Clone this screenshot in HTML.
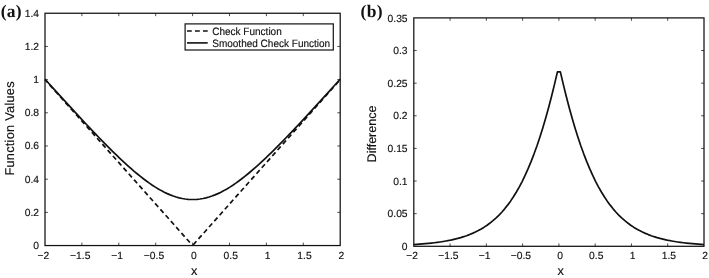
<!DOCTYPE html>
<html><head><meta charset="utf-8"><title>Check function</title>
<style>html,body{margin:0;padding:0;background:#fff}svg{display:block}</style></head>
<body>
<svg width="709" height="278" viewBox="0 0 709 278" text-rendering="geometricPrecision">
<rect width="709" height="278" fill="#fff"/>
<g stroke="#111" fill="none">
<rect x="45.0" y="13.25" width="295.20" height="232.30" stroke-width="1.25"/>
<path d="M81.90,245.55 v-2.9 M81.90,13.25 v2.9" stroke-width="0.75"/>
<path d="M118.80,245.55 v-2.9 M118.80,13.25 v2.9" stroke-width="0.75"/>
<path d="M155.70,245.55 v-2.9 M155.70,13.25 v2.9" stroke-width="0.75"/>
<path d="M192.60,245.55 v-2.9 M192.60,13.25 v2.9" stroke-width="0.75"/>
<path d="M229.50,245.55 v-2.9 M229.50,13.25 v2.9" stroke-width="0.75"/>
<path d="M266.40,245.55 v-2.9 M266.40,13.25 v2.9" stroke-width="0.75"/>
<path d="M303.30,245.55 v-2.9 M303.30,13.25 v2.9" stroke-width="0.75"/>
<path d="M45.0,212.36 h2.9 M340.2,212.36 h-2.9" stroke-width="0.75"/>
<path d="M45.0,179.18 h2.9 M340.2,179.18 h-2.9" stroke-width="0.75"/>
<path d="M45.0,145.99 h2.9 M340.2,145.99 h-2.9" stroke-width="0.75"/>
<path d="M45.0,112.81 h2.9 M340.2,112.81 h-2.9" stroke-width="0.75"/>
<path d="M45.0,79.62 h2.9 M340.2,79.62 h-2.9" stroke-width="0.75"/>
<path d="M45.0,46.44 h2.9 M340.2,46.44 h-2.9" stroke-width="0.75"/>
</g>
<g font-family="Liberation Sans, Arial, Helvetica, sans-serif" font-size="10.3" fill="#111" stroke="#111" stroke-width="0.15">
<text transform="translate(43.30,259.05) scale(1,1)" text-anchor="middle">−2</text>
<text transform="translate(80.20,259.05) scale(1,1)" text-anchor="middle">−1.5</text>
<text transform="translate(117.10,259.05) scale(1,1)" text-anchor="middle">−1</text>
<text transform="translate(154.00,259.05) scale(1,1)" text-anchor="middle">−0.5</text>
<text transform="translate(193.80,259.05) scale(1,1)" text-anchor="middle">0</text>
<text transform="translate(230.70,259.05) scale(1,1)" text-anchor="middle">0.5</text>
<text transform="translate(267.60,259.05) scale(1,1)" text-anchor="middle">1</text>
<text transform="translate(304.50,259.05) scale(1,1)" text-anchor="middle">1.5</text>
<text transform="translate(341.40,259.05) scale(1,1)" text-anchor="middle">2</text>
<text transform="translate(39.10,249.05) scale(1,1)" text-anchor="end">0</text>
<text transform="translate(39.10,215.86) scale(1,1)" text-anchor="end">0.2</text>
<text transform="translate(39.10,182.68) scale(1,1)" text-anchor="end">0.4</text>
<text transform="translate(39.10,149.49) scale(1,1)" text-anchor="end">0.6</text>
<text transform="translate(39.10,116.31) scale(1,1)" text-anchor="end">0.8</text>
<text transform="translate(39.10,83.12) scale(1,1)" text-anchor="end">1</text>
<text transform="translate(39.10,49.94) scale(1,1)" text-anchor="end">1.2</text>
<text transform="translate(39.10,16.75) scale(1,1)" text-anchor="end">1.4</text>
</g>
<g font-family="Liberation Sans, Arial, Helvetica, sans-serif" font-size="12.8" fill="#111" stroke="#111" stroke-width="0.15">
<text x="194.30" y="274.9" text-anchor="middle">x</text>
<text transform="translate(13.7,128.40) rotate(-90)" text-anchor="middle" letter-spacing="0.24" font-size="12.8">Function Values</text>
</g>
<g stroke="#111" fill="none">
<rect x="413.8" y="17.9" width="290.20" height="228.40" stroke-width="1.25"/>
<path d="M450.07,246.3 v-2.9 M450.07,17.9 v2.9" stroke-width="0.75"/>
<path d="M486.35,246.3 v-2.9 M486.35,17.9 v2.9" stroke-width="0.75"/>
<path d="M522.62,246.3 v-2.9 M522.62,17.9 v2.9" stroke-width="0.75"/>
<path d="M558.90,246.3 v-2.9 M558.90,17.9 v2.9" stroke-width="0.75"/>
<path d="M595.17,246.3 v-2.9 M595.17,17.9 v2.9" stroke-width="0.75"/>
<path d="M631.45,246.3 v-2.9 M631.45,17.9 v2.9" stroke-width="0.75"/>
<path d="M667.73,246.3 v-2.9 M667.73,17.9 v2.9" stroke-width="0.75"/>
<path d="M413.8,213.67 h2.9 M704.0,213.67 h-2.9" stroke-width="0.75"/>
<path d="M413.8,181.04 h2.9 M704.0,181.04 h-2.9" stroke-width="0.75"/>
<path d="M413.8,148.41 h2.9 M704.0,148.41 h-2.9" stroke-width="0.75"/>
<path d="M413.8,115.79 h2.9 M704.0,115.79 h-2.9" stroke-width="0.75"/>
<path d="M413.8,83.16 h2.9 M704.0,83.16 h-2.9" stroke-width="0.75"/>
<path d="M413.8,50.53 h2.9 M704.0,50.53 h-2.9" stroke-width="0.75"/>
</g>
<g font-family="Liberation Sans, Arial, Helvetica, sans-serif" font-size="10.3" fill="#111" stroke="#111" stroke-width="0.15">
<text transform="translate(412.10,259.10) scale(1,1)" text-anchor="middle">−2</text>
<text transform="translate(448.38,259.10) scale(1,1)" text-anchor="middle">−1.5</text>
<text transform="translate(484.65,259.10) scale(1,1)" text-anchor="middle">−1</text>
<text transform="translate(520.92,259.10) scale(1,1)" text-anchor="middle">−0.5</text>
<text transform="translate(560.00,259.10) scale(1,1)" text-anchor="middle">0</text>
<text transform="translate(596.27,259.10) scale(1,1)" text-anchor="middle">0.5</text>
<text transform="translate(632.55,259.10) scale(1,1)" text-anchor="middle">1</text>
<text transform="translate(668.83,259.10) scale(1,1)" text-anchor="middle">1.5</text>
<text transform="translate(705.10,259.10) scale(1,1)" text-anchor="middle">2</text>
<text transform="translate(407.60,250.00) scale(1,1)" text-anchor="end">0</text>
<text transform="translate(407.60,217.37) scale(1,1)" text-anchor="end">0.05</text>
<text transform="translate(407.60,184.74) scale(1,1)" text-anchor="end">0.1</text>
<text transform="translate(407.60,152.11) scale(1,1)" text-anchor="end">0.15</text>
<text transform="translate(407.60,119.49) scale(1,1)" text-anchor="end">0.2</text>
<text transform="translate(407.60,86.86) scale(1,1)" text-anchor="end">0.25</text>
<text transform="translate(407.60,54.23) scale(1,1)" text-anchor="end">0.3</text>
<text transform="translate(407.60,21.60) scale(1,1)" text-anchor="end">0.35</text>
</g>
<g font-family="Liberation Sans, Arial, Helvetica, sans-serif" font-size="12.8" fill="#111" stroke="#111" stroke-width="0.15">
<text x="560.80" y="274.9" text-anchor="middle">x</text>
<text transform="translate(375.6,134.00) rotate(-90)" text-anchor="middle" letter-spacing="0" font-size="12.5">Difference</text>
</g>
<path d="M45.00,79.62 L47.98,82.97 L50.96,86.33 L53.95,89.68 L56.93,93.03 L59.91,96.38 L62.89,99.73 L65.87,103.09 L68.85,106.44 L71.84,109.79 L74.82,113.14 L77.80,116.49 L80.78,119.85 L83.76,123.20 L86.75,126.55 L89.73,129.90 L92.71,133.25 L95.69,136.61 L98.67,139.96 L101.65,143.31 L104.64,146.66 L107.62,150.02 L110.60,153.37 L113.58,156.72 L116.56,160.07 L119.55,163.42 L122.53,166.78 L125.51,170.13 L128.49,173.48 L131.47,176.83 L134.45,180.18 L137.44,183.54 L140.42,186.89 L143.40,190.24 L146.38,193.59 L149.36,196.94 L152.35,200.30 L155.33,203.65 L158.31,207.00 L161.29,210.35 L164.27,213.71 L167.25,217.06 L170.24,220.41 L173.22,223.76 L176.20,227.11 L179.18,230.47 L182.16,233.82 L185.15,237.17 L188.13,240.52 L191.11,243.87 L192.60,245.22" fill="none" stroke="#111" stroke-width="1.7" stroke-dasharray="4.76,3.17" stroke-dashoffset="0.87"/>
<path d="M192.60,245.22 L194.09,243.87 L197.07,240.52 L200.05,237.17 L203.04,233.82 L206.02,230.47 L209.00,227.11 L211.98,223.76 L214.96,220.41 L217.95,217.06 L220.93,213.71 L223.91,210.35 L226.89,207.00 L229.87,203.65 L232.85,200.30 L235.84,196.94 L238.82,193.59 L241.80,190.24 L244.78,186.89 L247.76,183.54 L250.75,180.18 L253.73,176.83 L256.71,173.48 L259.69,170.13 L262.67,166.78 L265.65,163.42 L268.64,160.07 L271.62,156.72 L274.60,153.37 L277.58,150.02 L280.56,146.66 L283.55,143.31 L286.53,139.96 L289.51,136.61 L292.49,133.25 L295.47,129.90 L298.45,126.55 L301.44,123.20 L304.42,119.85 L307.40,116.49 L310.38,113.14 L313.36,109.79 L316.35,106.44 L319.33,103.09 L322.31,99.73 L325.29,96.38 L328.27,93.03 L331.25,89.68 L334.24,86.33 L337.22,82.97 L340.20,79.62" fill="none" stroke="#111" stroke-width="1.7" stroke-dasharray="4.76,3.17" stroke-dashoffset="7.2"/>
<path d="M45.00,79.18 L47.98,82.48 L50.96,85.78 L53.95,89.07 L56.93,92.36 L59.91,95.64 L62.89,98.92 L65.87,102.19 L68.85,105.44 L71.84,108.69 L74.82,111.93 L77.80,115.15 L80.78,118.36 L83.76,121.56 L86.75,124.74 L89.73,127.90 L92.71,131.04 L95.69,134.16 L98.67,137.26 L101.65,140.33 L104.64,143.37 L107.62,146.39 L110.60,149.36 L113.58,152.30 L116.56,155.20 L119.55,158.06 L122.53,160.87 L125.51,163.62 L128.49,166.32 L131.47,168.95 L134.45,171.52 L137.44,174.01 L140.42,176.43 L143.40,178.76 L146.38,181.00 L149.36,183.14 L152.35,185.18 L155.33,187.11 L158.31,188.93 L161.29,190.62 L164.27,192.18 L167.25,193.61 L170.24,194.89 L173.22,196.03 L176.20,197.02 L179.18,197.85 L182.16,198.51 L185.15,199.02 L188.13,199.35 L191.11,199.52 L194.09,199.52 L197.07,199.35 L200.05,199.02 L203.04,198.51 L206.02,197.85 L209.00,197.02 L211.98,196.03 L214.96,194.89 L217.95,193.61 L220.93,192.18 L223.91,190.62 L226.89,188.93 L229.87,187.11 L232.85,185.18 L235.84,183.14 L238.82,181.00 L241.80,178.76 L244.78,176.43 L247.76,174.01 L250.75,171.52 L253.73,168.95 L256.71,166.32 L259.69,163.62 L262.67,160.87 L265.65,158.06 L268.64,155.20 L271.62,152.30 L274.60,149.36 L277.58,146.39 L280.56,143.37 L283.55,140.33 L286.53,137.26 L289.51,134.16 L292.49,131.04 L295.47,127.90 L298.45,124.74 L301.44,121.56 L304.42,118.36 L307.40,115.15 L310.38,111.93 L313.36,108.69 L316.35,105.44 L319.33,102.19 L322.31,98.92 L325.29,95.64 L328.27,92.36 L331.25,89.07 L334.24,85.78 L337.22,82.48 L340.20,79.18" fill="none" stroke="#111" stroke-width="1.7" stroke-linejoin="round"/>
<path d="M413.80,244.55 L416.73,244.36 L419.66,244.16 L422.59,243.93 L425.53,243.68 L428.46,243.40 L431.39,243.10 L434.32,242.76 L437.25,242.38 L440.18,241.97 L443.11,241.51 L446.04,241.01 L448.98,240.46 L451.91,239.84 L454.84,239.16 L457.77,238.42 L460.70,237.59 L463.63,236.68 L466.56,235.68 L469.49,234.58 L472.43,233.36 L475.36,232.03 L478.29,230.55 L481.22,228.94 L484.15,227.16 L487.08,225.20 L490.01,223.06 L492.95,220.70 L495.88,218.12 L498.81,215.30 L501.74,212.21 L504.67,208.84 L507.60,205.15 L510.53,201.14 L513.46,196.77 L516.40,192.02 L519.33,186.86 L522.26,181.27 L525.19,175.22 L528.12,168.69 L531.05,161.65 L533.98,154.08 L536.92,145.95 L539.85,137.24 L542.78,127.93 L545.71,118.01 L548.64,107.45 L551.57,96.25 L554.50,84.40 L557.43,71.88 L560.37,71.88 L563.30,84.40 L566.23,96.25 L569.16,107.45 L572.09,118.01 L575.02,127.93 L577.95,137.24 L580.88,145.95 L583.82,154.08 L586.75,161.65 L589.68,168.69 L592.61,175.22 L595.54,181.27 L598.47,186.86 L601.40,192.02 L604.34,196.77 L607.27,201.14 L610.20,205.15 L613.13,208.84 L616.06,212.21 L618.99,215.30 L621.92,218.12 L624.85,220.70 L627.79,223.06 L630.72,225.20 L633.65,227.16 L636.58,228.94 L639.51,230.55 L642.44,232.03 L645.37,233.36 L648.31,234.58 L651.24,235.68 L654.17,236.68 L657.10,237.59 L660.03,238.42 L662.96,239.16 L665.89,239.84 L668.82,240.46 L671.76,241.01 L674.69,241.51 L677.62,241.97 L680.55,242.38 L683.48,242.76 L686.41,243.10 L689.34,243.40 L692.27,243.68 L695.21,243.93 L698.14,244.16 L701.07,244.36 L704.00,244.55" fill="none" stroke="#111" stroke-width="1.7" stroke-linejoin="round"/>
<rect x="185.1" y="23.9" width="148.20" height="26.10" fill="#fff" stroke="#111" stroke-width="1.2"/>
<path d="M187.0,31.05 h20.7" stroke="#111" stroke-width="1.6" stroke-dasharray="4.8,3.2" fill="none"/>
<path d="M187.0,42.9 h20.7" stroke="#111" stroke-width="1.6" fill="none"/>
<g font-family="Liberation Sans, Arial, Helvetica, sans-serif" font-size="10.6" fill="#111" stroke="#111" stroke-width="0.15">
<text transform="translate(212.2,34.6) scale(0.945,1)">Check Function</text>
<text transform="translate(212.2,46.6) scale(0.945,1)">Smoothed Check Function</text>
</g>
<g font-family="Liberation Serif, Times New Roman, Times, serif" font-weight="bold" font-size="17.5" fill="#111">
<text x="0.7" y="16.9" letter-spacing="0.3">(a)</text>
<text x="360.5" y="16.9" letter-spacing="0.4">(b)</text>
</g>
</svg>
</body></html>
